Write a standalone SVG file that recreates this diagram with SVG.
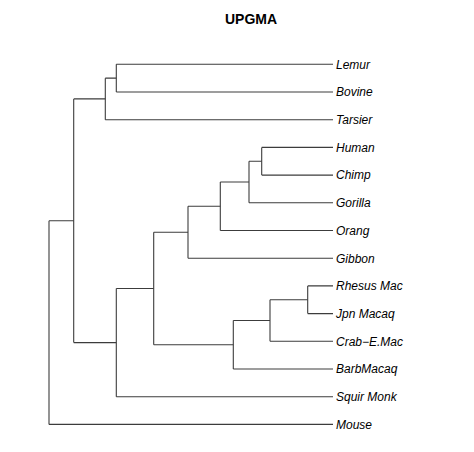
<svg xmlns="http://www.w3.org/2000/svg" width="474" height="452" viewBox="0 0 474 452">
<style>
.e{fill:none;stroke:#3c3c3c;stroke-width:1.1}
.l{font-family:"Liberation Sans",Arial,sans-serif;font-style:italic;font-size:12px;fill:#000}
.t{font-family:"Liberation Sans",Arial,sans-serif;font-weight:bold;font-size:14px;fill:#000}
</style>
<rect width="474" height="452" fill="#fff"/>
<text class="t" x="251" y="24" text-anchor="middle">UPGMA</text>
<g id="connectors">
<path class="e" d="M116.3,64.3H333M116.3,92H333M116.3,64.3V92"/>
<path class="e" d="M105.3,78.15H116.3M105.3,119.7H333M105.3,78.15V119.7"/>
<path class="e" d="M261.7,147.4H333M261.7,175.1H333M261.7,147.4V175.1"/>
<path class="e" d="M249,161.25H261.7M249,202.8H333M249,161.25V202.8"/>
<path class="e" d="M220.3,182H249M220.3,230.5H333M220.3,182V230.5"/>
<path class="e" d="M188,206.25H220.3M188,258.2H333M188,206.25V258.2"/>
<path class="e" d="M307.7,285.9H333M307.7,313.6H333M307.7,285.9V313.6"/>
<path class="e" d="M270,299.75H307.7M270,341.3H333M270,299.75V341.3"/>
<path class="e" d="M233.3,320.5H270M233.3,369H333M233.3,320.5V369"/>
<path class="e" d="M153.7,232.2H188M153.7,344.75H233.3M153.7,232.2V344.75"/>
<path class="e" d="M116.3,288.5H153.7M116.3,396.7H333M116.3,288.5V396.7"/>
<path class="e" d="M73.7,98.9H105.3M73.7,342.6H116.3M73.7,98.9V342.6"/>
<path class="e" d="M49,220.75H73.7M49,424.4H333M49,220.75V424.4"/>
</g>
<g id="Lemur"><text class="l" x="336" y="68.6">Lemur</text></g>
<g id="Bovine"><text class="l" x="336" y="96.3">Bovine</text></g>
<g id="Tarsier"><text class="l" x="336" y="124">Tarsier</text></g>
<g id="Human"><text class="l" x="336" y="151.7">Human</text></g>
<g id="Chimp"><text class="l" x="336" y="179.4">Chimp</text></g>
<g id="Gorilla"><text class="l" x="336" y="207.1">Gorilla</text></g>
<g id="Orang"><text class="l" x="336" y="234.8">Orang</text></g>
<g id="Gibbon"><text class="l" x="336" y="262.5">Gibbon</text></g>
<g id="RhesusMac"><text class="l" x="336" y="290.2">Rhesus Mac</text></g>
<g id="JpnMacaq"><text class="l" x="336" y="317.9">Jpn Macaq</text></g>
<g id="CrabEMac"><text class="l" x="336" y="345.6">Crab−E.Mac</text></g>
<g id="BarbMacaq"><text class="l" x="336" y="373.3">BarbMacaq</text></g>
<g id="SquirMonk"><text class="l" x="336" y="401">Squir Monk</text></g>
<g id="Mouse"><text class="l" x="336" y="428.7">Mouse</text></g>
</svg>
